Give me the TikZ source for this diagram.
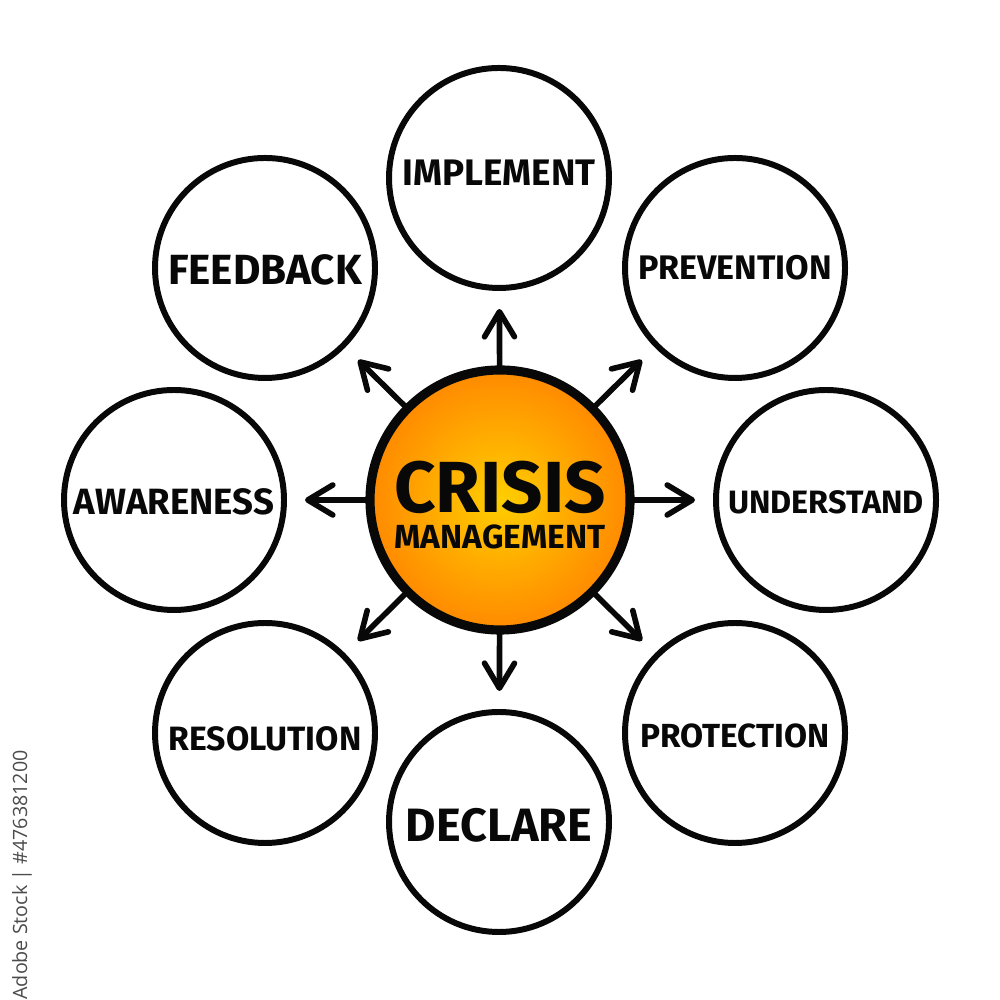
\documentclass[tikz,border=0pt]{standalone}
\usepackage{fontspec}
\usepackage{tikz}
\setmainfont{Fira Sans}
\newfontfamily\stockfont{Open Sans}
\usetikzlibrary{arrows.meta}
\usetikzlibrary{shadings}
\definecolor{mink}{rgb}{0.03, 0.03, 0.03}
\definecolor{mgold}{rgb}{1.0, 0.81, 0.0}
\definecolor{morange}{rgb}{1.0, 0.54, 0.0}
\newcommand{\labelsize}[1]{\fontsize{#1}{#1}\selectfont\bfseries}
\tikzset{leaf/.style = {draw = mink, line width = 1.7pt, circle, minimum size = 2.2cm, inner sep = 0, text = mink}}
\tikzset{hub/.style = {draw = mink, line width = 2.6pt, circle, minimum size = 2.6cm, inner sep = 0, text = mink,
                       inner color = mgold, outer color = morange, align = center}}
\tikzset{spoke/.style = {draw = mink, line width = 1.6pt, line cap = round, shorten > = 0.18cm,
                         -{Straight Barb[length = 2.5mm, width = 3mm, round]}}}
\begin{document}
\begin{tikzpicture}
    \useasboundingbox (0, 0) rectangle (10, 10);

    \node [hub] (crisis) at (5, 5) {\rule{0pt}{17.5pt}{\labelsize{20.6}CRISIS}\\[-1.5pt]
                                    {\labelsize{9.5}MANAGEMENT}};

    \node [leaf, font = \labelsize{10.5}, text depth = 2.8pt] (implement) at (4.99, 8.22) {IMPLEMENT};
    \node [leaf, font = \labelsize{9.7}] (prevention) at (7.35, 7.32) {PREVENTION};
    \node [leaf, font = \labelsize{9.2}, text height = 8pt] (understand) at (8.26, 5) {UNDERSTAND};
    \node [leaf, font = \labelsize{9.5}, text height = 8.7pt] (protection) at (7.35, 2.67) {PROTECTION};
    \node [leaf, font = \labelsize{13.3}, text height = 11.4pt] (declare) at (4.99, 1.78) {DECLARE};
    \node [leaf, font = \labelsize{9.6}, text height = 10pt] (resolution) at (2.65, 2.67) {RESOLUTION};
    \node [leaf, font = \labelsize{10.4}, text height = 8.3pt] (awareness) at (1.74, 5) {AWARENESS};
    \node [leaf, font = \labelsize{12}, text height = 9.4pt] (feedback) at (2.65, 7.32) {FEEDBACK};

    \foreach \target in {implement, prevention, understand, protection, declare, resolution, awareness, feedback}
        \draw [spoke] (crisis) -- (\target);

    \node [rotate = 90, text = black!70, font = \stockfont\fontsize{5.6}{6}\selectfont] (stockmark) at (0.22, 1.25) {Adobe Stock | \#476381200};
\end{tikzpicture}
\end{document}
